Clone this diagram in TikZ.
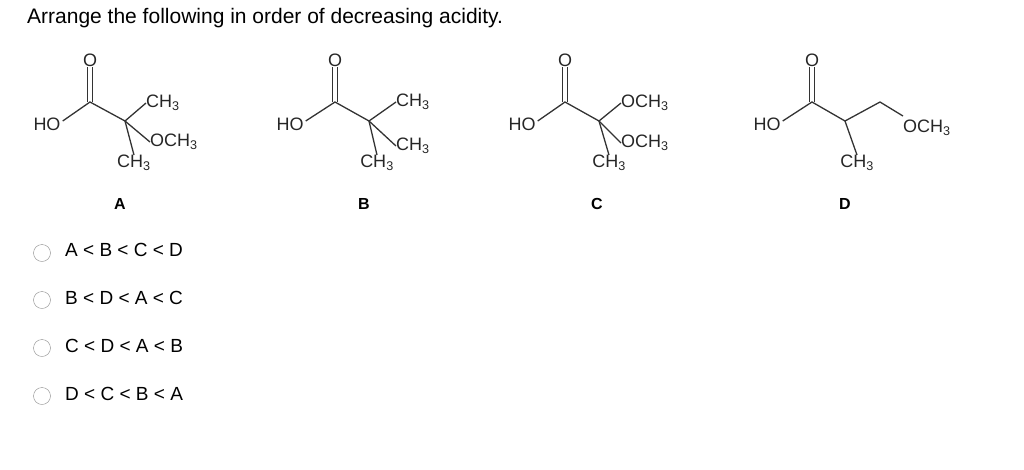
\documentclass[tikz,border=0pt]{standalone}
\usepackage{fontspec}
\setmainfont{Liberation Sans}
\newcommand{\tsub}[1]{\textsubscript{#1}}
\begin{document}
\begin{tikzpicture}[x=1pt,y=-1pt,
  bond/.style={draw=black!80,line width=1.3pt},
  atom/.style={inner sep=0pt,font=\fontsize{18}{18}\selectfont,text=black!85},
  lbl/.style={font=\fontsize{16}{16}\selectfont\bfseries},
  opt/.style={font=\fontsize{19}{19}\selectfont,anchor=west,inner sep=0pt},
  radio/.style={circle,draw=black!45,minimum size=17pt,inner sep=0pt}]
\useasboundingbox (0,0) rectangle (1024,469);
\node[anchor=west,inner sep=0pt,font=\fontsize{21}{21}\selectfont] (title) at (27,18) {Arrange the following in order of decreasing acidity.};
% A
\node[atom] (aho) at (47,124) {HO};
\node[atom] (ao) at (90,60) {O};
\coordinate (ac) at (90,102);
\coordinate (aq) at (125,121);
\node[atom,anchor=west] (ame) at (146,103) {CH\tsub{3}};
\node[atom,anchor=west] (aome) at (150,142) {OCH\tsub{3}};
\node[atom] (ame2) at (134,163) {CH\tsub{3}};
\draw[bond] (aho.east) ++(2,-3) -- (ac) -- (aq) -- (ame.west);
\draw[bond] (aq) -- (aome.west);
\draw[bond] (aq) -- (ame2.north);
\draw[bond] (ac) ++(-2.5,0) -- ([xshift=-2.5]ao.south);
\draw[bond] (ac) ++(2.5,0) -- ([xshift=2.5]ao.south);
\node[lbl] (la) at (120,204) {A};
% B
\node[atom] (bho) at (290,124) {HO};
\node[atom] (bo) at (335,60) {O};
\coordinate (bc) at (335,102);
\coordinate (bq) at (369,121);
\node[atom,anchor=west] (bme) at (396,102) {CH\tsub{3}};
\node[atom,anchor=west] (bme3) at (396,146) {CH\tsub{3}};
\node[atom] (bme2) at (377,163) {CH\tsub{3}};
\draw[bond] (bho.east) ++(2,-3) -- (bc) -- (bq) -- (bme.west);
\draw[bond] (bq) -- (bme3.west);
\draw[bond] (bq) -- (bme2.north);
\draw[bond] (bc) ++(-2.5,0) -- ([xshift=-2.5]bo.south);
\draw[bond] (bc) ++(2.5,0) -- ([xshift=2.5]bo.south);
\node[lbl] (lb) at (364,204) {B};
% C
\node[atom] (cho) at (522,124) {HO};
\node[atom] (co) at (565,60) {O};
\coordinate (cc) at (565,102);
\coordinate (cq) at (599,121);
\node[atom,anchor=west] (cme) at (621,103) {OCH\tsub{3}};
\node[atom,anchor=west] (cme3) at (621,143) {OCH\tsub{3}};
\node[atom] (cme2) at (609,163) {CH\tsub{3}};
\draw[bond] (cho.east) ++(2,-3) -- (cc) -- (cq) -- (cme.west);
\draw[bond] (cq) -- (cme3.west);
\draw[bond] (cq) -- (cme2.north);
\draw[bond] (cc) ++(-2.5,0) -- ([xshift=-2.5]co.south);
\draw[bond] (cc) ++(2.5,0) -- ([xshift=2.5]co.south);
\node[lbl] (lc) at (597,204) {C};
% D
\node[atom] (dho) at (767,124) {HO};
\node[atom] (do) at (812,60) {O};
\coordinate (dc) at (812,102);
\coordinate (dq) at (845,121);
\coordinate (dm) at (880,102);
\node[atom,anchor=west] (dome) at (903,128) {OCH\tsub{3}};
\node[atom] (dme2) at (857,163) {CH\tsub{3}};
\draw[bond] (dho.east) ++(2,-3) -- (dc) -- (dq) -- (dm) -- ([yshift=4]dome.north west);
\draw[bond] (dq) -- (dme2.north);
\draw[bond] (dc) ++(-2.5,0) -- ([xshift=-2.5]do.south);
\draw[bond] (dc) ++(2.5,0) -- ([xshift=2.5]do.south);
\node[lbl] (ld) at (845,204) {D};
% options
\node[radio] (r1) at (42,253) {};
\node[radio] (r2) at (42,300) {};
\node[radio] (r3) at (42,348) {};
\node[radio] (r4) at (42,396) {};
\node[opt] (o1) at (65,250) {A < B < C < D};
\node[opt] (o2) at (65,298) {B < D < A < C};
\node[opt] (o3) at (65,346) {C < D < A < B};
\node[opt] (o4) at (65,394) {D < C < B < A};
\end{tikzpicture}
\end{document}
